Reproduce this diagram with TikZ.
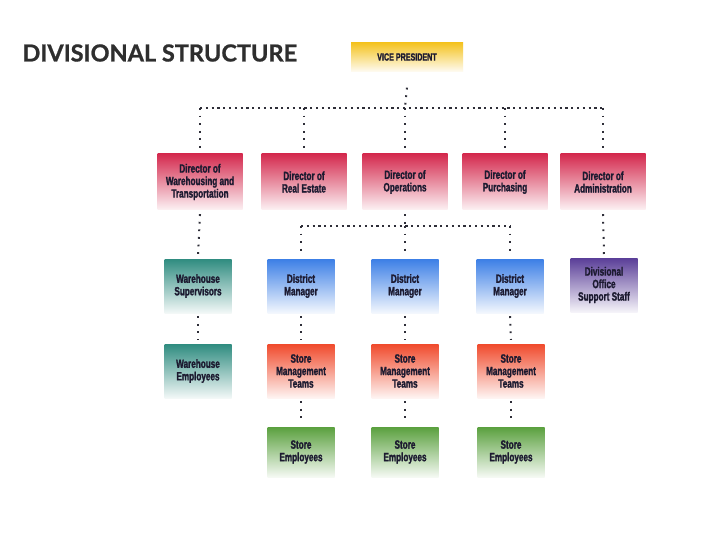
\documentclass[tikz,border=0pt]{standalone}
\usepackage{fontspec}
\newfontfamily\bx{Liberation Sans Bold}[FakeStretch=0.68,FakeBold=1.6]
\newfontfamily\ttl{Lato}[BoldFeatures={FakeBold=0.8}]
\definecolor{ink}{HTML}{1C1A30}
\definecolor{dred}{HTML}{D42A4E}
\definecolor{dteal}{HTML}{2F8C80}
\definecolor{dblue}{HTML}{3C7FE6}
\definecolor{dpurp}{HTML}{5A3E98}
\definecolor{dorng}{HTML}{F04A2C}
\definecolor{dgrn}{HTML}{5AA03E}
\definecolor{dyel}{HTML}{F4C21E}
\definecolor{dot}{HTML}{2E2E38}
\tikzset{
  box/.style={minimum width=#1, inner sep=1pt, align=center, text=ink,
     font=\bx\fontsize{12}{12.5}\selectfont},
  grad/.style={top color=#1, middle color=#1!72, bottom color=#1!6},
  dir/.style={box=85pt, minimum height=56pt, grad=dred},
  sm/.style={box=67pt, minimum height=54pt},
  vdots/.style={draw=dot, line width=2pt, dash pattern=on 1.8pt off 5.8pt},
  hdots/.style={draw=dot, line width=2pt, dash pattern=on 2.2pt off 3.6pt}
}
\begin{document}
\begin{tikzpicture}[x=1pt,y=-1pt]
\useasboundingbox (0,0) rectangle (720,540);
\fill[white] (0,0) rectangle (720,540);
\node[anchor=west, text=black!82, font=\ttl\bfseries\fontsize{23.5}{25}\selectfont] (title) at (19,53) {DIVISIONAL STRUCTURE};
\node[box=112pt, minimum height=29pt, grad=dyel, font=\bx\fontsize{10.5}{11}\selectfont] (vp) at (407,57) {VICE PRESIDENT};
% directors
\node[dir] (d1) at (200,182) {Director of\\Warehousing and\\Transportation};
\node[dir] (d2) at (304,182) {Director of\\Real Estate};
\node[dir] (d3) at (405,182) {Director of\\Operations};
\node[dir] (d4) at (505,182) {Director of\\Purchasing};
\node[dir] (d5) at (603,182) {Director of\\Administration};
% row 2
\node[sm, grad=dteal] (ws) at (198,286) {Warehouse\\Supervisors};
\node[sm, grad=dblue] (m1) at (301,286) {District\\Manager};
\node[sm, grad=dblue] (m2) at (405,286) {District\\Manager};
\node[sm, grad=dblue] (m3) at (510,286) {District\\Manager};
\node[sm, grad=dpurp] (os) at (604,285) {Divisional\\Office\\Support Staff};
% row 3
\node[sm, grad=dteal] (we) at (198,371) {Warehouse\\Employees};
\node[sm, grad=dorng] (t1) at (301,371) {Store\\Management\\Teams};
\node[sm, grad=dorng] (t2) at (405,371) {Store\\Management\\Teams};
\node[sm, grad=dorng] (t3) at (511,371) {Store\\Management\\Teams};
% row 4
\node[sm, minimum height=50pt, grad=dgrn] (e1) at (301,452) {Store\\Employees};
\node[sm, minimum height=50pt, grad=dgrn] (e2) at (405,452) {Store\\Employees};
\node[sm, minimum height=50pt, grad=dgrn] (e3) at (511,452) {Store\\Employees};
% connectors
\coordinate (bus1) at (405,108);
\coordinate (bus2) at (405,226);
\draw[vdots] ([yshift=-16pt]vp.south) -- (bus1);
\draw[hdots] (d1.north |- bus1) -- (d5.north |- bus1);
\foreach \n in {d1,d2,d3,d4,d5}
  \draw[vdots] (\n.north |- bus1) -- ([yshift=5pt]\n.north);
\draw[vdots] ([yshift=-4pt]d3.south) -- (bus2);
\draw[hdots] (m1.north |- bus2) -- (m3.north |- bus2);
\foreach \n in {m1,m2,m3}
  \draw[vdots] (\n.north |- bus2) -- ([yshift=5pt]\n.north);
\draw[vdots] ([yshift=-4pt]d1.south) -- ([yshift=3pt]ws.north);
\draw[vdots] ([yshift=-4pt]d5.south) -- ([yshift=3pt]os.north);
\draw[vdots] ([yshift=-3pt]ws.south) -- ([yshift=4pt]we.north);
\draw[vdots] ([yshift=-3pt]m1.south) -- ([yshift=4pt]t1.north);
\draw[vdots] ([yshift=-3pt]m2.south) -- ([yshift=4pt]t2.north);
\draw[vdots] ([yshift=-3pt]m3.south) -- ([yshift=4pt]t3.north);
\draw[vdots] ([yshift=-3pt]t1.south) -- ([yshift=4pt]e1.north);
\draw[vdots] ([yshift=-3pt]t2.south) -- ([yshift=4pt]e2.north);
\draw[vdots] ([yshift=-3pt]t3.south) -- ([yshift=4pt]e3.north);
\end{tikzpicture}
\end{document}
